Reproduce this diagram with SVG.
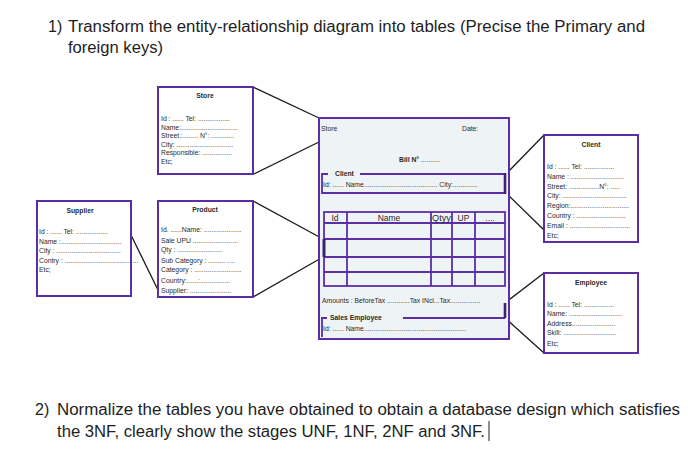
<svg xmlns="http://www.w3.org/2000/svg" width="700" height="460" viewBox="0 0 700 460">
<style>
.q{font-family:"Liberation Sans",Arial,sans-serif;font-size:16px;fill:#1e1e1e}
.t{font-family:"Liberation Sans",Arial,sans-serif;font-size:6.8px;fill:#2a2a2a}
.h{font-family:"Liberation Sans",Arial,sans-serif;font-size:6.8px;font-weight:bold;fill:#2a2a2a}
.th{font-family:"Liberation Sans",Arial,sans-serif;font-size:8.5px;fill:#2a2a2a}
.box{fill:#fff;stroke:#5b2ea6;stroke-width:2}
.bill{fill:#eef3f6;stroke:#5b2ea6;stroke-width:2}
.pl{fill:none;stroke:#5b2ea6;stroke-width:1.8}
.con{stroke:#1a1a1a;stroke-width:1.3;fill:none}
</style>
<rect width="700" height="460" fill="#fff"/>
<g id="question1">
<text class="q" x="48" y="32">1)</text>
<text class="q" x="68" y="32" textLength="577" lengthAdjust="spacingAndGlyphs">Transform the entity-relationship diagram into  tables  (Precise the Primary and</text>
<text class="q" x="68" y="53" textLength="95" lengthAdjust="spacingAndGlyphs">foreign keys)</text>
</g>
<g id="connectors">
<line class="con" x1="253" y1="87" x2="319" y2="118"/>
<line class="con" x1="254" y1="174" x2="319" y2="142"/>
<line class="con" x1="253" y1="201" x2="323" y2="239"/>
<line class="con" x1="253" y1="297" x2="323" y2="257"/>
<line class="con" x1="131" y1="235" x2="158" y2="290"/>
<line class="con" x1="506" y1="174" x2="544" y2="135"/>
<line class="con" x1="506" y1="193" x2="544" y2="230"/>
<line class="con" x1="505" y1="303" x2="544" y2="273"/>
<line class="con" x1="505" y1="318" x2="544" y2="353"/>
</g>
<g id="store">
<rect class="box" x="158" y="87" width="95" height="87"/>
<text class="h" x="205" y="98" text-anchor="middle">Store</text>
<text class="t" x="161" y="121">Id : ......   Tel: .................</text>
<text class="t" x="161" y="130">Name:..............................</text>
<text class="t" x="161" y="138">Street.:........ N°: ............</text>
<text class="t" x="161" y="147">City: ..............................</text>
<text class="t" x="161" y="155">Responsible: ................</text>
<text class="t" x="161" y="164">Etc;</text>
</g>
<g id="bill">
<rect class="bill" x="319" y="118" width="190" height="221"/>
<text class="t" x="321" y="131">Store</text>
<text class="t" x="462" y="131">Date:</text>
<text class="h" x="399" y="162">Bill  N°<tspan class="t" font-weight="normal"> ..........</tspan></text>
<path class="pl" d="M328,174 H322 V193 H505 V174 H360"/>
<line x1="505" y1="173" x2="505" y2="194" stroke="#3d2270" stroke-width="2.6"/>
<text class="h" x="335" y="176">Client</text>
<text class="t" x="323" y="187">Id: ...... Name....................................... City:.............</text>
<g fill="none" stroke="#5b2ea6" stroke-width="1.8">
<rect x="324" y="212" width="181" height="74"/>
<path d="M324,223 H505 M324,239 H505 M324,257 H505 M324,272 H505 M347,212 V286 M431,212 V286 M452,212 V286 M475,212 V286"/>
</g>
<line x1="324" y1="239" x2="324" y2="257" stroke="#3d2270" stroke-width="3"/>
<text class="th" x="335" y="221" text-anchor="middle">Id</text>
<text class="th" x="389" y="221" text-anchor="middle">Name</text>
<text class="th" x="441.5" y="221" text-anchor="middle" textLength="19" lengthAdjust="spacingAndGlyphs">Qtyy</text>
<text class="th" x="463.5" y="221" text-anchor="middle">UP</text>
<text class="th" x="490" y="221" text-anchor="middle">....</text>
<text class="t" x="322" y="303">Amounts : BeforeTax ............Tax INcl...Tax................</text>
<path class="pl" d="M327,318 H322 V337 M403,318 H505"/>
<line x1="505" y1="303" x2="505" y2="318" stroke="#3d2270" stroke-width="2.6"/>
<text class="h" x="330" y="320">Sales Employee</text>
<text class="t" x="323" y="331">Id: ...... Name......................................................</text>
</g>
<g id="client">
<rect class="box" x="544" y="135" width="94" height="107"/>
<text class="h" x="591" y="147" text-anchor="middle">Client</text>
<text class="t" x="547" y="169">Id : ......   Tel: ................</text>
<text class="t" x="547" y="179">Name : ............................</text>
<text class="t" x="547" y="189">Street: ................N°: .....</text>
<text class="t" x="547" y="198">City: ..................................</text>
<text class="t" x="547" y="208">Region:...............................</text>
<text class="t" x="547" y="218">Country : ..........................</text>
<text class="t" x="547" y="228">Email  : ................................</text>
<text class="t" x="547" y="238">Etc;</text>
</g>
<g id="employee">
<rect class="box" x="544" y="273" width="94" height="80"/>
<text class="h" x="591" y="285" text-anchor="middle">Employee</text>
<text class="t" x="547" y="307">Id : ......   Tel: ................</text>
<text class="t" x="547" y="316">Name: ............................</text>
<text class="t" x="547" y="326">Address.......................</text>
<text class="t" x="547" y="335">Skill: ............................</text>
<text class="t" x="547" y="346">Etc;</text>
</g>
<g id="supplier">
<rect class="box" x="37" y="201" width="94" height="95"/>
<text class="h" x="80" y="213" text-anchor="middle">Supplier</text>
<text class="t" x="39" y="234">Id : ......    Tel: .................</text>
<text class="t" x="39" y="244">Name  :................................</text>
<text class="t" x="39" y="253">City : ..................................</text>
<text class="t" x="39" y="263">Contry : .......................................</text>
<text class="t" x="39" y="272">Etc;</text>
</g>
<g id="product">
<rect class="box" x="158" y="201" width="95" height="96"/>
<text class="h" x="205" y="212" text-anchor="middle">Product</text>
<text class="t" x="161" y="232">Id.  ......Name: ....................</text>
<text class="t" x="161" y="243">Sale  UPU ........................</text>
<text class="t" x="161" y="252">Qty : ........................</text>
<text class="t" x="161" y="263">Sub  Category : ......... ....</text>
<text class="t" x="161" y="272">Category : .........................</text>
<text class="t" x="161" y="283">Country:......:................</text>
<text class="t" x="161" y="293">Supplier: ......................</text>
</g>
<g id="question2">
<text class="q" x="35" y="415">2)</text>
<text class="q" x="57" y="415" textLength="623" lengthAdjust="spacingAndGlyphs">Normalize the tables you have obtained to obtain a database design which satisfies</text>
<text class="q" x="57" y="437" textLength="428" lengthAdjust="spacingAndGlyphs">the 3NF, clearly show the stages UNF, 1NF, 2NF and 3NF.</text>
<line x1="489" y1="421" x2="489" y2="441" stroke="#1e1e1e" stroke-width="1"/>
</g>
</svg>
